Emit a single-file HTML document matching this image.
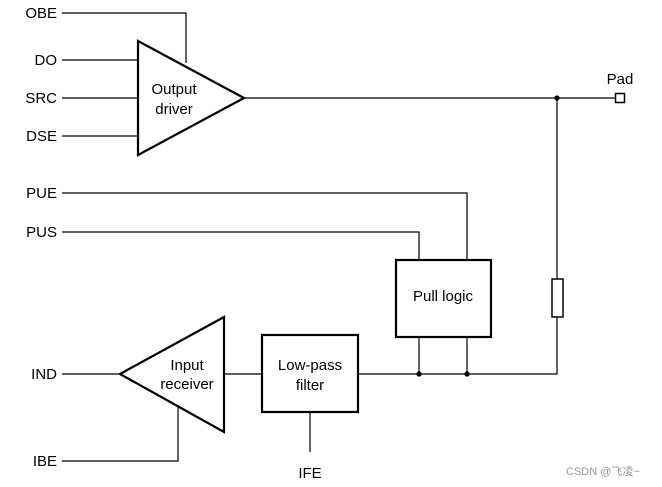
<!DOCTYPE html>
<html><head><style>body{margin:0;background:#fff}svg{display:block}text{font-family:"Liberation Sans",Arial,sans-serif;font-size:15px;fill:#000}</style></head>
<body>
<svg width="662" height="487" viewBox="0 0 662 487">
<g stroke="#000" stroke-width="1.2" fill="none">
<polyline points="62,13 186,13 186,63"/>
<line x1="62" y1="60" x2="138" y2="60"/>
<line x1="62" y1="98" x2="138" y2="98"/>
<line x1="62" y1="136" x2="138" y2="136"/>
<line x1="244" y1="98" x2="615" y2="98"/>
<rect x="615.5" y="93.5" width="9" height="9" stroke-width="1.5"/>
<line x1="557" y1="98" x2="557" y2="279"/>
<rect x="552" y="279" width="11" height="38" stroke-width="1.5"/>
<polyline points="557,317 557,374 358,374"/>
<polyline points="62,193 467,193 467,260"/>
<polyline points="62,232 419,232 419,260"/>
<line x1="419" y1="337" x2="419" y2="374"/>
<line x1="467" y1="337" x2="467" y2="374"/>
<line x1="62" y1="374" x2="120" y2="374"/>
<line x1="224" y1="374" x2="262" y2="374"/>
<polyline points="62,461 178,461 178,406"/>
<line x1="310" y1="412" x2="310" y2="452"/>
</g>
<g stroke="#000" stroke-width="2.2" fill="#fff">
<polygon points="138,41 138,155 244,98"/>
<polygon points="120,374 224,317 224,432"/>
<rect x="396" y="260" width="95" height="77"/>
<rect x="262" y="335" width="96" height="77"/>
</g>
<g fill="#000"><circle cx="557" cy="98" r="2.6"/><circle cx="419" cy="374" r="2.6"/><circle cx="467" cy="374" r="2.6"/></g>
<g text-anchor="end">
<text x="57" y="18">OBE</text><text x="57" y="65">DO</text><text x="57" y="103">SRC</text><text x="57" y="141">DSE</text>
<text x="57" y="198">PUE</text><text x="57" y="237">PUS</text><text x="57" y="379">IND</text><text x="57" y="466">IBE</text>
</g>
<g text-anchor="middle">
<text x="174" y="94">Output</text><text x="174" y="114">driver</text>
<text x="620" y="84">Pad</text>
<text x="443" y="301">Pull logic</text>
<text x="310" y="370">Low-pass</text><text x="310" y="390">filter</text>
<text x="187" y="370">Input</text><text x="187" y="389">receiver</text>
<text x="310" y="478">IFE</text>
</g>
<text x="566" y="475" style="font-size:11px;fill:#999">CSDN @飞凌~</text>
</svg>
</body></html>
